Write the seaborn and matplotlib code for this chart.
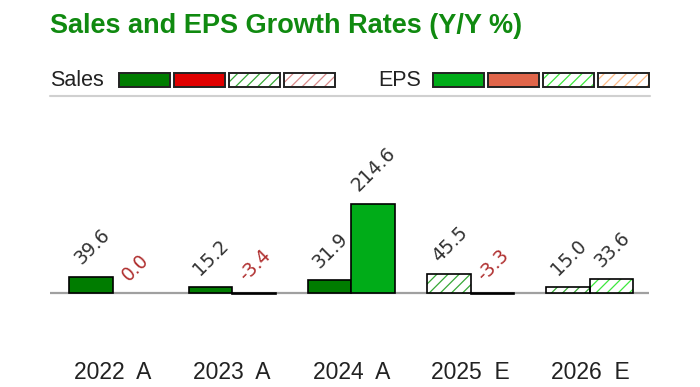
import matplotlib
matplotlib.use('Agg')
import matplotlib.pyplot as plt
from matplotlib.patches import Rectangle
import pandas as pd
import seaborn as sns

years = ['2022  A', '2023  A', '2024  A', '2025  E', '2026  E']
sales = [39.6, 15.2, 31.9, 45.5, 15.0]
eps = [0.0, -3.4, 214.6, -3.3, 33.6]
estimate = [False, False, False, True, True]

# colours: (actual +, actual -, estimate + hatch, estimate - hatch)
sales_colors = ['#007c00', '#e00000', '#36a836', '#d98a8a']
eps_colors = ['#00ac18', '#e0654a', '#3de83d', '#ffbb85']

W, H = 700, 387


def fx(px):
    return px / W


def fy(py):
    return 1 - py / H


sns.set_theme(style='white')
plt.rcParams['font.family'] = ['Liberation Sans', 'DejaVu Sans']
plt.rcParams['hatch.linewidth'] = 0.9

df = pd.DataFrame({
    'year': years * 2,
    'series': ['Sales'] * len(years) + ['EPS'] * len(years),
    'value': sales + eps,
})

fig = plt.figure(figsize=(7, 3.87), dpi=100)
ax = fig.add_axes([fx(50), fy(355), fx(649) - fx(50), fy(110) - fy(355)])

sns.barplot(data=df, x='year', y='value', hue='series', hue_order=['Sales', 'EPS'],
            width=0.73, dodge=True, errorbar=None, legend=False, saturation=1,
            edgecolor='black', linewidth=1.2, ax=ax, zorder=2)

ax.axhline(0, color='#a0a0a0', lw=1.6, zorder=1)
ax.set_xlim(-0.528, 4.495)
ax.set_ylim(-148.8, 439.3)


def style_bars(container, values, colors):
    for bar, v, est in zip(container.patches, values, estimate):
        if v == 0:
            bar.set_linewidth(0)
        if not est:
            bar.set_facecolor(colors[0] if v > 0 else colors[1])
        else:
            hc = colors[2] if v > 0 else colors[3]
            outline = Rectangle(bar.get_xy(), bar.get_width(), bar.get_height(),
                                fill=False, edgecolor='black', lw=1.2, zorder=3)
            ax.add_patch(outline)
            bar.set_facecolor('white')
            bar.set_edgecolor(hc)
            bar.set_hatch('///')
            bar.set_linewidth(0)
        lbl_y = max(v, 0)
        ax.annotate(f'{v:.1f}', (bar.get_x() + bar.get_width() / 2, lbl_y),
                    xytext=(0.5, 6), textcoords='offset points', rotation=45,
                    ha='center', va='bottom', fontsize=13.5, family='DejaVu Sans',
                    color='#333333' if v > 0 else '#b03030')


style_bars(ax.containers[0], sales, sales_colors)
style_bars(ax.containers[1], eps, eps_colors)

for s in ax.spines.values():
    s.set_visible(False)
ax.set_yticks([])
ax.set_xlabel('')
ax.set_ylabel('')
ax.tick_params(axis='x', length=0, pad=4, labelsize=16.5, labelcolor='#222222')

# title and legend
fig.text(fx(50), fy(26), 'Sales and EPS Growth Rates (Y/Y %)', fontsize=19.5,
         fontweight='bold', color='#108a10', va='center', ha='left')


def legend_row(label, x_text, x_box, colors):
    fig.text(fx(x_text), fy(80), label, fontsize=15.5, color='#222222', va='center', ha='left')
    for i, c in enumerate(colors):
        x0 = x_box + i * 55
        box = (fx(x0), fy(87))
        if i < 2:
            r = Rectangle(box, fx(51), 14 / H, transform=fig.transFigure,
                          facecolor=c, edgecolor='#222222', lw=1.4)
            fig.patches.append(r)
        else:
            r = Rectangle(box, fx(51), 14 / H, transform=fig.transFigure,
                          facecolor='white', edgecolor=c, hatch='///', lw=0)
            fig.patches.append(r)
            r2 = Rectangle(box, fx(51), 14 / H, transform=fig.transFigure,
                           fill=False, edgecolor='#222222', lw=1.4)
            fig.patches.append(r2)


legend_row('Sales', 50, 119, sales_colors)
legend_row('EPS', 378, 433, eps_colors)

fig.add_artist(plt.Line2D([fx(50), fx(650)], [fy(96), fy(96)], color='#d0d0d0', lw=1.5))

fig.savefig('out.png', dpi=100)
